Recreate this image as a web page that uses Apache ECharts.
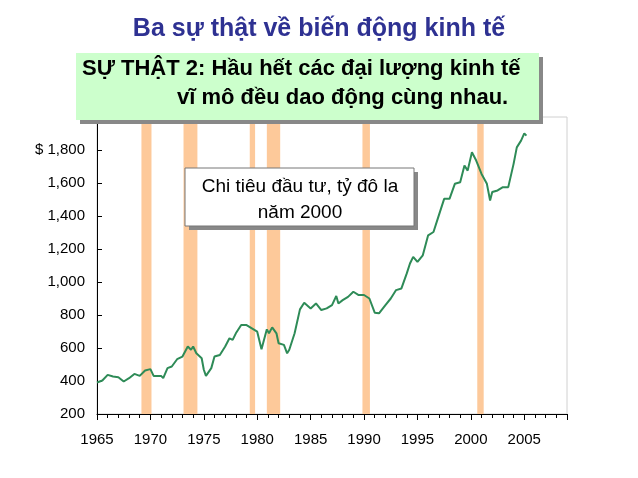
<!DOCTYPE html>
<html><head><meta charset="utf-8">
<script src="https://cdn.jsdelivr.net/npm/echarts@6/dist/echarts.min.js"></script>
<style>html,body{margin:0;padding:0;background:#fff}#c{width:638px;height:478px}</style>
</head><body><div id="c"></div>
<script>
var years = [1965.0,1965.5,1966.0,1966.5,1967.0,1967.5,1968.0,1968.5,1969.0,1969.5,1970.0,1970.3,1971.0,1971.2,1971.6,1972.0,1972.5,1973.0,1973.5,1973.8,1974.0,1974.3,1974.8,1975.0,1975.2,1975.7,1976.0,1976.5,1977.0,1977.4,1977.7,1978.0,1978.5,1979.0,1979.5,1980.0,1980.4,1980.9,1981.1,1981.4,1981.8,1982.0,1982.5,1982.8,1983.0,1983.5,1984.0,1984.4,1985.0,1985.5,1986.0,1986.5,1987.0,1987.4,1987.6,1988.0,1988.5,1989.0,1989.5,1990.0,1990.5,1991.0,1991.4,1992.0,1992.5,1993.0,1993.5,1994.0,1994.3,1994.6,1995.0,1995.5,1996.0,1996.5,1997.0,1997.5,1998.0,1998.5,1999.0,1999.4,1999.7,2000.1,2000.5,2001.0,2001.5,2001.8,2002.0,2002.5,2003.0,2003.5,2004.0,2004.3,2004.7,2005.0,2005.2];
var investment = [391,403,437,427,423,397,417,443,431,464,472,431,431,417,478,488,532,548,609,589,609,568,538,468,431,478,548,558,609,659,649,689,739,739,719,699,593,713,689,725,689,629,619,568,589,689,834,874,840,870,830,840,860,915,870,890,910,941,921,921,900,814,810,860,900,951,961,1052,1112,1152,1122,1162,1283,1303,1404,1504,1504,1595,1605,1706,1675,1786,1736,1655,1595,1494,1545,1555,1575,1575,1716,1816,1857,1901,1887];
var recessions = [[1969.16,1970.1],[1973.1,1974.4],[1979.3,1979.8],[1980.9,1982.15],[1989.85,1990.55],[2000.6,2001.2]];
var xTicks = [1965,1970,1975,1980,1985,1990,1995,2000,2005];
var yTicks = [200,400,600,800,1000,1200,1400,1600,1800];

var chart = echarts.init(document.getElementById('c'));
var font = 'Liberation Sans, Arial, sans-serif';
chart.setOption({
  animation:false,
  grid:{left:97,right:71,top:117,bottom:64,show:true,borderColor:'#d0d0d0',borderWidth:1},
  xAxis:{type:'value',min:1965,max:2009,interval:5,
    axisLine:{lineStyle:{color:'#000',width:1}},
    axisTick:{show:true,length:6,lineStyle:{color:'#000'}},
    minorTick:{show:true,splitNumber:5,length:4,lineStyle:{color:'#000'}},
    splitLine:{show:false},
    axisLabel:{color:'#000',fontSize:15,fontFamily:font,margin:18,
      formatter:function(v){return xTicks.indexOf(v)>=0?String(v):'';}}},
  yAxis:{type:'value',min:200,max:2000,interval:200,
    axisLine:{show:true,lineStyle:{color:'#000'}},
    axisTick:{show:true,inside:true,length:5,lineStyle:{color:'#000'}},
    splitLine:{show:false},
    axisLabel:{color:'#000',fontSize:15,fontFamily:font,margin:12,
      formatter:function(v){if(yTicks.indexOf(v)<0)return '';var s=v.toLocaleString('en-US');return v===1800?'$ '+s:s;}}},
  series:[{type:'line',data:years.map(function(y,i){return [y,investment[i]];}),
    showSymbol:false,lineStyle:{color:'#2e8b57',width:2},
    markArea:{silent:true,itemStyle:{color:'#fdc99a'},
      data:recessions.map(function(r){return [{xAxis:r[0]},{xAxis:r[1]}];})},
    z:3}],
  graphic:[
    {type:'text',left:'center',top:17,style:{text:'Ba sự thật về biến động kinh tế',fill:'#2e3192',font:'bold 25px '+font}},
    {type:'rect',shape:{x:80,y:57,width:463,height:67},style:{fill:'#888'},z:10},
    {type:'rect',shape:{x:76,y:53,width:463,height:67},style:{fill:'#ccffcc'},z:11},
    {type:'text',x:82,y:58,style:{text:'SỰ THẬT 2: Hầu hết các đại lượng kinh tế',fill:'#000',font:'bold 22px '+font},z:12},
    {type:'text',x:177,y:87,style:{text:'vĩ mô đều dao động cùng nhau.',fill:'#000',font:'bold 22px '+font},z:12},
    {type:'rect',shape:{x:189,y:172,width:229,height:58},style:{fill:'#888'},z:10},
    {type:'rect',shape:{x:185,y:168,width:229,height:58},style:{fill:'#fff',stroke:'#777',lineWidth:1},z:11},
    {type:'text',x:300,y:174,style:{text:'Chi tiêu đầu tư, tỷ đô la\nnăm 2000',align:'center',fill:'#000',font:'19px '+font,lineHeight:26},z:12}
  ]
});
</script></body></html>
